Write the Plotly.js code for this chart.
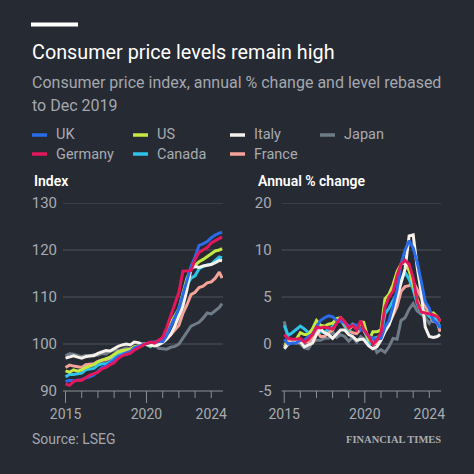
<!DOCTYPE html>
<html><head><meta charset="utf-8">
<script src="https://cdn.plot.ly/plotly-3.0.1.min.js"></script>
<style>html,body{margin:0;padding:0;background:#262a33;} #chart{width:474px;height:474px;}</style>
</head><body><div id="chart"></div>
<script>
// ---- DATA ----
const dates = [
 "2015-01-01","2015-04-01","2015-07-01","2015-10-01",
 "2016-01-01","2016-04-01","2016-07-01","2016-10-01",
 "2017-01-01","2017-04-01","2017-07-01","2017-10-01",
 "2018-01-01","2018-04-01","2018-07-01","2018-10-01",
 "2019-01-01","2019-04-01","2019-07-01","2019-10-01",
 "2019-12-01","2020-04-01","2020-07-01","2020-10-01",
 "2021-01-01","2021-04-01","2021-07-01","2021-10-01",
 "2022-01-01","2022-04-01","2022-07-01","2022-10-01",
 "2023-01-01","2023-04-01","2023-07-01","2023-10-01",
 "2024-01-01","2024-04-01","2024-07-01","2024-09-01"];

const countries = ["Japan","France","Canada","US","Italy","UK","Germany"];

const indexUK = [92.0,92.3,92.2,92.3, 92.4,92.8,93.0,93.4, 94.2,95.0,95.3,95.9, 96.6,97.3,97.6,98.1, 98.4,99.2,99.5,99.9, 100,100.3,100.5,100.6, 100.5,101.8,103.8,105.5, 107.5,110.5,113.5,116.5, 118.5,121.0,121.3,121.8, 122.6,123.2,123.6,123.8];
const indexGermany = [91.5,91.2,92.0,92.3, 92.3,92.8,93.4,93.7, 94.0,94.7,95.0,95.6, 96.0,96.9,97.5,97.8, 98.0,98.7,99.2,99.8, 100,100.4,100.2,100.8, 101.4,103.5,106.0,108.5, 111.0,115.5,115.5,115.6, 118.0,119.5,120.0,120.5, 121.5,122.0,122.6,122.8];
const indexUS = [94.3,94.0,94.5,94.2, 94.5,95.0,95.3,95.6, 96.2,96.5,96.8,97.2, 97.8,98.3,98.6,98.8, 98.9,99.4,99.6,99.9, 100,99.6,100.3,100.6, 101.2,103.0,104.6,106.0, 107.5,110.5,114.0,116.0, 116.8,117.5,118.0,118.6, 119.2,119.8,120.0,120.3];
const indexCanada = [93.0,93.5,93.5,93.6, 93.8,94.5,94.6,94.8, 95.5,95.8,95.8,96.2, 97.0,97.6,98.0,97.8, 98.5,99.3,99.4,99.8, 100,99.4,100.1,100.3, 101.0,102.5,104.0,105.5, 107.0,110.5,112.5,114.0, 114.5,116.0,116.5,116.8, 117.0,117.8,118.5,118.3];
const indexItaly = [97.0,97.3,97.5,97.2, 97.0,97.3,97.5,97.5, 98.0,98.3,98.6,98.5, 99.0,99.5,99.8,100.0, 99.8,100.4,100.3,99.9, 100,99.7,99.6,99.8, 100.3,101.0,102.0,103.8, 106.0,108.0,111.5,116.0, 116.5,116.3,116.6,116.8, 116.9,117.3,117.8,117.7];
const indexJapan = [97.5,97.9,97.8,97.5, 97.3,97.6,97.3,97.8, 97.6,98.0,97.9,98.4, 98.7,98.6,98.8,99.2, 99.0,99.4,99.3,99.9, 100,99.8,99.9,99.1, 99.0,98.9,99.3,99.5, 100.0,101.2,102.4,103.8, 104.2,104.6,105.5,106.6, 106.4,107.2,107.8,108.6];
const indexFrance = [95.0,95.5,95.3,95.2, 95.0,95.6,95.7,95.8, 96.3,96.6,96.6,97.0, 97.6,98.3,98.5,98.6, 98.5,99.3,99.4,99.9, 100,100.0,100.0,100.1, 100.7,101.3,102.0,103.0, 104.0,106.5,108.3,110.5, 111.0,112.0,112.3,113.0, 113.2,114.0,115.3,114.0];

const changeUK = [0.5,0.0,0.1,0.1, 0.4,0.4,0.8,1.0, 1.8,2.5,2.8,3.0, 2.9,2.5,2.4,2.3, 1.9,2.0,2.0,1.5, 1.6,0.8,0.6,0.5, 0.6,1.8,2.5,4.0, 5.8,8.5,10.0,11.0, 10.2,8.7,6.7,4.5, 3.8,2.5,2.2,1.7];
const changeGermany = [1.0,0.6,0.5,0.5, 0.6,0.2,0.5,1.0, 1.8,1.7,1.8,1.7, 1.6,2.2,2.8,2.4, 1.7,2.0,1.5,2.5, 1.6,0.8,0.0,0.4, 1.2,3.9,5.0,5.6, 7.3,8.5,8.9,8.5, 7.0,4.5,3.4,3.3, 3.2,3.1,2.9,2.4];
const changeUS = [0.0,0.0,0.3,0.5, 1.2,1.0,1.0,1.6, 2.5,2.0,1.9,2.1, 2.2,2.7,2.8,2.3, 1.6,1.9,1.8,2.1, 2.4,0.3,1.3,1.3, 1.5,4.8,5.3,6.3, 7.7,8.5,8.6,7.8, 6.3,4.7,3.6,3.4, 3.2,3.3,2.9,2.4];
const changeCanada = [2.0,0.9,1.2,1.6, 1.9,1.6,1.2,1.4, 1.9,1.3,1.2,1.6, 1.8,2.4,2.6,2.0, 1.4,2.1,1.9,2.1, 2.2,-0.2,0.6,0.7, 0.9,3.2,3.8,4.6, 5.4,6.8,7.6,6.9, 5.8,4.3,3.3,3.4, 2.9,2.8,2.5,1.7];
const changeItaly = [-0.5,0.0,0.2,0.2, 0.3,-0.3,-0.1,0.1, 1.0,1.6,1.2,1.0, 0.6,1.0,1.5,1.5, 1.0,0.8,0.4,0.5, 0.5,-0.2,-0.5,-0.3, 0.4,1.3,2.0,3.3, 5.0,6.5,8.0,11.5, 11.6,8.2,5.5,1.8, 0.8,0.7,0.8,1.0];
const changeJapan = [2.4,0.5,0.2,0.3, 0.0,-0.4,-0.5,0.2, 0.4,0.4,0.6,0.6, 1.3,0.7,1.0,0.8, 0.3,0.7,0.2,0.8, 0.6,0.1,0.2,-0.9, -0.6,-0.9,-0.3,0.6, 0.5,2.5,2.8,3.7, 4.3,3.5,3.2,2.8, 2.2,2.8,2.7,2.5];
const changeFrance = [-0.3,0.3,0.2,0.1, 0.2,0.2,0.2,0.6, 1.4,0.8,0.8,1.2, 1.5,2.3,2.6,1.9, 1.4,1.2,1.1,1.6, 1.5,0.4,0.2,0.0, 0.8,1.6,2.1,3.1, 4.0,5.6,6.1,6.2, 6.6,5.8,5.0,4.1, 3.1,2.4,2.3,1.3];

const indexTickVals = [90,100,110,120,130];
// the top gridline of the right panel sits one 5-point step above 10 but is labelled "20" in the original
const changeTickVals = [-5,0,5,10,15];
const changeTickText = ["-5","0","5","10","20"];
const yearTickVals = ["2015-01-01","2016-01-01","2017-01-01","2018-01-01","2019-01-01","2020-01-01","2021-01-01","2022-01-01","2023-01-01","2024-01-01"];
const yearTickText = ["2015","","","","","2020","","","","2024"];
const longTickVals = ["2015-01-01","2020-01-01"];
const legendRow1 = ["UK","US","Italy","Japan"];
const legendRow2 = ["Germany","Canada","France"];

// ---- STYLE ----
const colors = {UK:"#2a6be8", Germany:"#e2175c", US:"#c4e844", Canada:"#2ec3ea", Italy:"#f6f1ea", France:"#f3a398", Japan:"#6f7c88"};
const seriesIndex = {UK:indexUK, Germany:indexGermany, US:indexUS, Canada:indexCanada, Italy:indexItaly, Japan:indexJapan, France:indexFrance};
const seriesChange = {UK:changeUK, Germany:changeGermany, US:changeUS, Canada:changeCanada, Italy:changeItaly, Japan:changeJapan, France:changeFrance};

const W = 474, H = 474;
const px = v => v / W, py = v => 1 - v / H;
const FONT = "Roboto, 'Noto Sans', sans-serif";
const BG = "#262a33", GRID = "#4f535b", AXIS = "#8c8f95", TICKTXT = "#a8abb0";

const traces = [];
countries.forEach(c => {
  traces.push({x: dates, y: seriesIndex[c], type: "scatter", mode: "lines", xaxis: "x", yaxis: "y",
    line: {color: colors[c], width: 3}, hoverinfo: "skip", name: c});
  traces.push({x: dates, y: seriesChange[c], type: "scatter", mode: "lines", xaxis: "x2", yaxis: "y2",
    line: {color: colors[c], width: 3}, hoverinfo: "skip", name: c});
});

const xRange = ["2014-11-05", "2024-09-22"];
function xAxis(domain, anchor) {
  return {domain: domain, anchor: anchor, type: "date", range: xRange, showgrid: false, zeroline: false,
    showline: false, ticks: "", ticklabelstandoff: 13,
    tickmode: "array", tickvals: yearTickVals, ticktext: yearTickText,
    tickfont: {family: FONT, size: 14, color: TICKTXT}, fixedrange: true};
}
function yAxis(domain, anchor, range, vals, text, standoff) {
  return {domain: domain, anchor: anchor, range: range, tickmode: "array", tickvals: vals, ticktext: text,
    showgrid: false, zeroline: false, showline: false, ticks: "", ticklabelstandoff: standoff,
    tickfont: {family: FONT, size: 15, color: TICKTXT}, fixedrange: true};
}

const yDom = [py(391), py(203)];
const x1Dom = [px(63), px(223)];
const x2Dom = [px(281.7), px(441)];

const annotations = [];
const shapes = [];
function txt(text, x, y, size, color, weight) {
  annotations.push({text: text, x: px(x), y: py(y), xref: "paper", yref: "paper",
    xanchor: "left", yanchor: "middle", showarrow: false, font: {family: FONT, size: size, color: color, weight: weight || 400}});
}
txt("Consumer price levels remain high", 30, 52, 19.8, "#ffffff");
txt("Consumer price index, annual % change and level rebased", 30, 83, 16, "#a4a7ad");
txt("to Dec 2019", 30, 106, 16, "#a4a7ad");
txt("Index", 32, 181, 14, "#ffffff", 600);
txt("Annual % change", 256, 181, 14, "#ffffff", 600);
txt("Source: LSEG", 30, 439, 14, "#a4a7ad");
annotations.push({text: "<b>FINANCIAL TIMES</b>", x: px(443), y: py(439), xref: "paper", yref: "paper",
  xanchor: "right", yanchor: "middle", showarrow: false, font: {family: "'Liberation Serif', 'DejaVu Serif', serif", size: 10.5, color: "#a9acb1"}});

// gridlines, axis line and ticks drawn through each panel's own axes
[["x", "y", indexTickVals], ["x2", "y2", changeTickVals]].forEach(([xa, ya, vals]) => {
  vals.slice(1).forEach(v => {
    shapes.push({type: "line", xref: xa + " domain", yref: ya, x0: 0, x1: 1, y0: v, y1: v,
      layer: "below", line: {color: GRID, width: 1}});
  });
  shapes.push({type: "line", xref: xa + " domain", yref: ya + " domain", x0: 0, x1: 1, y0: 0, y1: 0,
    line: {color: AXIS, width: 1}});
  yearTickVals.forEach(v => {
    const long = longTickVals.includes(v);
    shapes.push({type: "line", xref: xa, yref: "paper", x0: v, x1: v, y0: py(391), y1: py(long ? 403 : 398),
      line: {color: AXIS, width: 1}});
  });
});

shapes.push({type: "rect", xref: "paper", yref: "paper", x0: px(31), x1: px(78), y0: py(26.5), y1: py(22.5),
  fillcolor: "#ffffff", line: {width: 0}});

const legCols = [32, 133, 230, 320];
const legRows = [135, 154];
[legendRow1, legendRow2].forEach((row, r) => {
  row.forEach((name, i) => {
    const x = legCols[i], y = legRows[r];
    shapes.push({type: "line", xref: "paper", yref: "paper", x0: px(x), x1: px(x + 15), y0: py(y), y1: py(y),
      line: {color: colors[name], width: 3.5}});
    txt(name, x + 22, y, 14.5, "#a8abb0");
  });
});

const layout = {
  width: W, height: H, margin: {l: 0, r: 0, t: 0, b: 0, pad: 0},
  paper_bgcolor: BG, plot_bgcolor: BG, showlegend: false,
  xaxis: xAxis(x1Dom, "y"), yaxis: yAxis(yDom, "x", [90, 130], indexTickVals, null, 5),
  xaxis2: xAxis(x2Dom, "y2"), yaxis2: yAxis(yDom, "x2", [-5, 15], changeTickVals, changeTickText, 9),
  annotations: annotations, shapes: shapes, hovermode: false
};
Plotly.newPlot("chart", traces, layout, {displayModeBar: false});
</script></body></html>
